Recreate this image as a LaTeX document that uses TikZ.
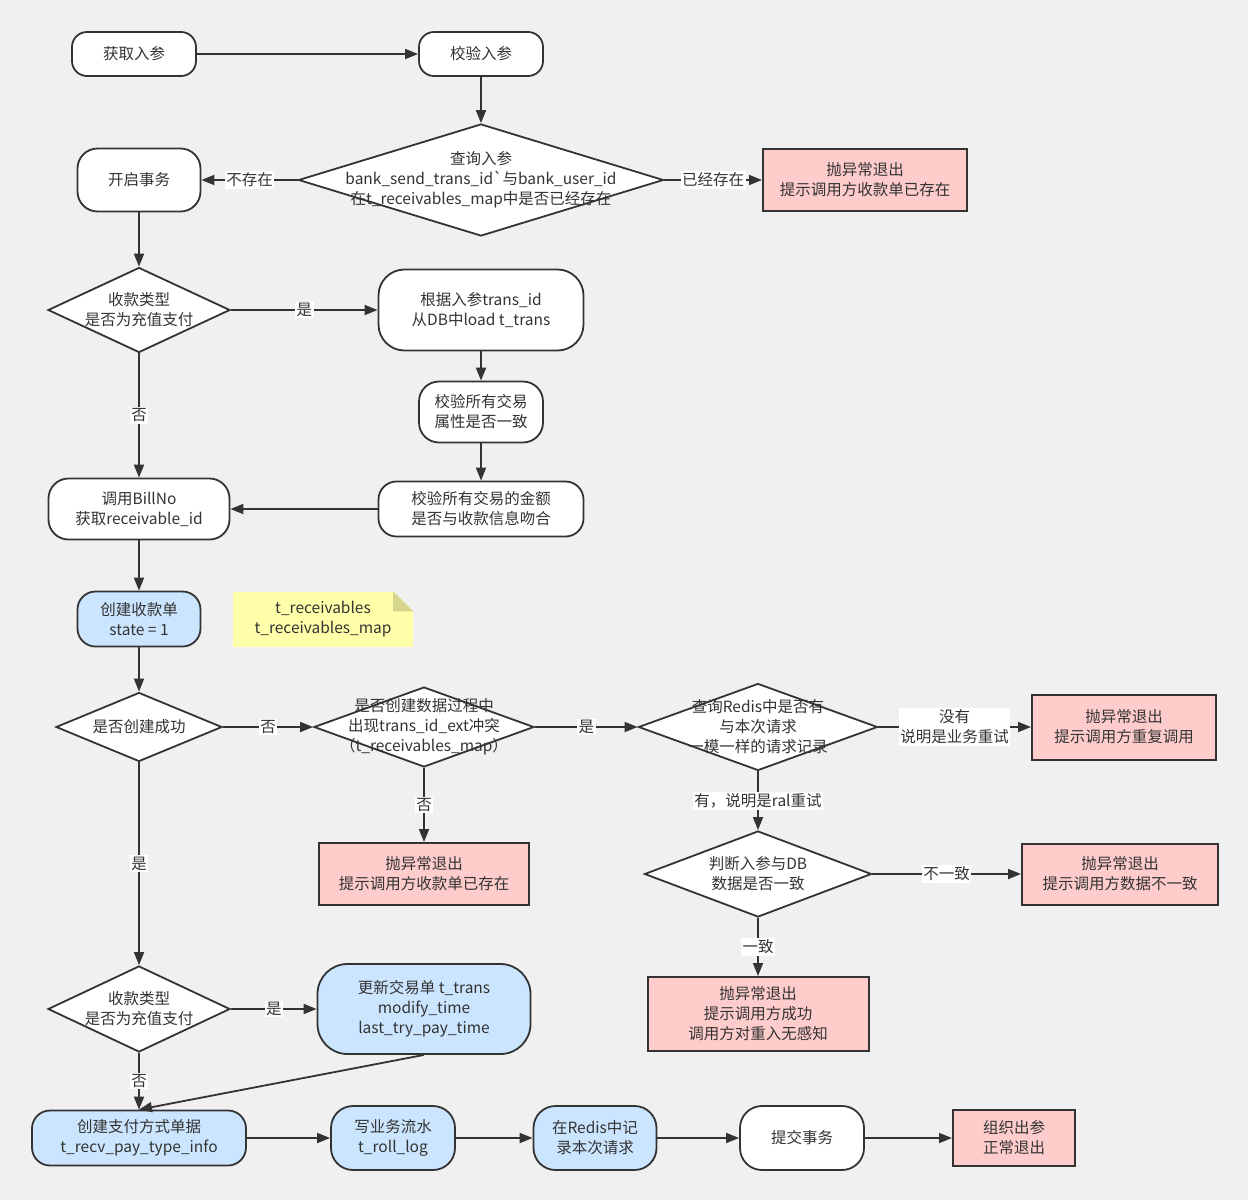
\documentclass[tikz,border=0pt]{standalone}
\usepackage{fontspec}
\setmainfont{Noto Sans CJK SC}
\usetikzlibrary{shapes.geometric,arrows.meta}
\definecolor{bg}{HTML}{F0F0F0}
\definecolor{ink}{HTML}{333333}
\definecolor{pink}{HTML}{FFCCCC}
\definecolor{sky}{HTML}{CCE5FF}
\definecolor{memo}{HTML}{FFFFAA}
\definecolor{memofold}{HTML}{D6D68A}

\begin{document}
\begin{tikzpicture}[x=1pt, y=-1pt, font=\fontsize{15.5}{20}\selectfont, text=ink,
  box/.style={draw=ink, line width=1.8pt, rounded corners=18pt, fill=white, align=center, inner sep=0pt},
  exit/.style={draw=ink, line width=2pt, fill=pink, align=center, inner sep=0pt},
  decide/.style={diamond, draw=ink, line width=1.8pt, fill=white, inner sep=0pt},
  link/.style={draw=ink, line width=1.8pt, -{Triangle[length=13pt,width=10pt]}},
  lbl/.style={fill=white, inner sep=1.5pt, align=center}]
  \useasboundingbox (0,0) rectangle (1248,1200);
  \fill[bg] (0,0) rectangle (1248,1200);

  \node (get) [box, minimum width=124pt, minimum height=44pt, rounded corners=15pt] at (134,54) {获取入参};
  \node (chk) [box, minimum width=124pt, minimum height=44pt, rounded corners=15pt] at (481,54) {校验入参};
  \node (q) [decide, minimum width=365pt, minimum height=112pt,
    label={[align=center]center:查询入参\\bank\_send\_trans\_id\textasciigrave 与bank\_user\_id\\在t\_receivables\_map中是否已经存在}] at (481,180) {};
  \node (tx) [box, minimum width=123pt, minimum height=63pt, rounded corners=20pt] at (139,180) {开启事务};
  \node (dup1) [exit, minimum width=204pt, minimum height=62pt] at (865,180) {抛异常退出\\提示调用方收款单已存在};

  \node (type1) [decide, minimum width=182pt, minimum height=85pt,
    label={[align=center]center:收款类型\\是否为充值支付}] at (139,310) {};
  \node (load) [box, minimum width=205pt, minimum height=81pt, rounded corners=26pt] at (481,310) {根据入参trans\_id\\从DB中load t\_trans};
  \node (attr) [box, minimum width=124pt, minimum height=61pt, rounded corners=20pt] at (481,412) {校验所有交易\\属性是否一致};
  \node (amt) [box, minimum width=205pt, minimum height=55pt] at (481,509) {校验所有交易的金额\\是否与收款信息吻合};
  \node (bill) [box, minimum width=181pt, minimum height=61pt, rounded corners=20pt] at (139,509) {调用BillNo\\获取receivable\_id};

  \node (rcv) [box, fill=sky, minimum width=123pt, minimum height=55pt] at (139,619) {创建收款单\\state = 1};
  \node (memo) [fill=memo, align=center, minimum width=180pt, minimum height=55pt] at (323,619) {t\_receivables\\t\_receivables\_map};
  \fill[bg] (memo.north east) -- ++(-20,0) -- ++(20,20) -- cycle;
  \fill[memofold] (memo.north east) ++(-20,0) -- ++(0,20) -- ++(20,0) -- cycle;

  \node (ok) [decide, minimum width=166pt, minimum height=69pt,
    label={[align=center]center:是否创建成功}] at (139,727) {};
  \node (clash) [decide, minimum width=220pt, minimum height=80pt,
    label={[align=center]center:是否创建数据过程中\\出现trans\_id\_ext冲突\\（t\_receivables\_map）}] at (424,727) {};
  \node (redis) [decide, minimum width=239pt, minimum height=87pt,
    label={[align=center]center:查询Redis中是否有\\与本次请求\\一模一样的请求记录}] at (758,727) {};
  \node (again) [exit, minimum width=184pt, minimum height=65pt] at (1124,727) {抛异常退出\\提示调用方重复调用};
  \node (dup2) [exit, minimum width=210pt, minimum height=62pt] at (424,874) {抛异常退出\\提示调用方收款单已存在};
  \node (same) [decide, minimum width=227pt, minimum height=86pt,
    label={[align=center]center:判断入参与DB\\数据是否一致}] at (758,874) {};
  \node (diff) [exit, minimum width=196pt, minimum height=61pt] at (1120,874) {抛异常退出\\提示调用方数据不一致};
  \node (done) [exit, minimum width=221pt, minimum height=74pt] at (758,1014) {抛异常退出\\提示调用方成功\\调用方对重入无感知};

  \node (type2) [decide, minimum width=182pt, minimum height=86pt,
    label={[align=center]center:收款类型\\是否为充值支付}] at (139,1009) {};
  \node (upd) [box, fill=sky, minimum width=213pt, minimum height=90pt, rounded corners=30pt] at (424,1009) {更新交易单 t\_trans\\modify\_time\\last\_try\_pay\_time};

  \node (pay) [box, fill=sky, minimum width=214pt, minimum height=55pt] at (139,1138) {创建支付方式单据\\t\_recv\_pay\_type\_info};
  \node (log) [box, fill=sky, minimum width=124pt, minimum height=64pt, rounded corners=22pt] at (393,1138) {写业务流水\\t\_roll\_log};
  \node (mark) [box, fill=sky, minimum width=123pt, minimum height=64pt, rounded corners=22pt] at (595,1138) {在Redis中记\\录本次请求};
  \node (commit) [box, minimum width=124pt, minimum height=64pt, rounded corners=22pt] at (802,1138) {提交事务};
  \node (out) [exit, minimum width=122pt, minimum height=56pt] at (1014,1138) {组织出参\\正常退出};

  \draw[link] (get) -- (chk);
  \draw[link] (chk) -- (q);
  \draw[link] (q) -- node[lbl] {不存在} (tx);
  \draw[link] (q) -- node[lbl] {已经存在} (dup1);
  \draw[link] (tx) -- (type1);
  \draw[link] (type1) -- node[lbl] {是} (load);
  \draw[link] (type1) -- node[lbl] {否} (bill);
  \draw[link] (load) -- (attr);
  \draw[link] (attr) -- (amt);
  \draw[link] (amt) -- (bill);
  \draw[link] (bill) -- (rcv);
  \draw[link] (rcv) -- (ok);
  \draw[link] (ok) -- node[lbl] {否} (clash);
  \draw[link] (clash) -- node[lbl] {是} (redis);
  \draw[link] (clash) -- node[lbl] {否} (dup2);
  \draw[link] (redis) -- node[lbl] {没有\\说明是业务重试} (again);
  \draw[link] (redis) -- node[lbl] {有，说明是ral重试} (same);
  \draw[link] (same) -- node[lbl] {不一致} (diff);
  \draw[link] (same) -- node[lbl] {一致} (done);
  \draw[link] (ok) -- node[lbl] {是} (type2);
  \draw[link] (type2) -- node[lbl] {是} (upd);
  \draw[link] (type2) -- node[lbl] {否} (pay);
  \draw[link] (upd.south) -- (pay.north);
  \draw[link] (pay) -- (log);
  \draw[link] (log) -- (mark);
  \draw[link] (mark) -- (commit);
  \draw[link] (commit) -- (out);
\end{tikzpicture}
\end{document}
